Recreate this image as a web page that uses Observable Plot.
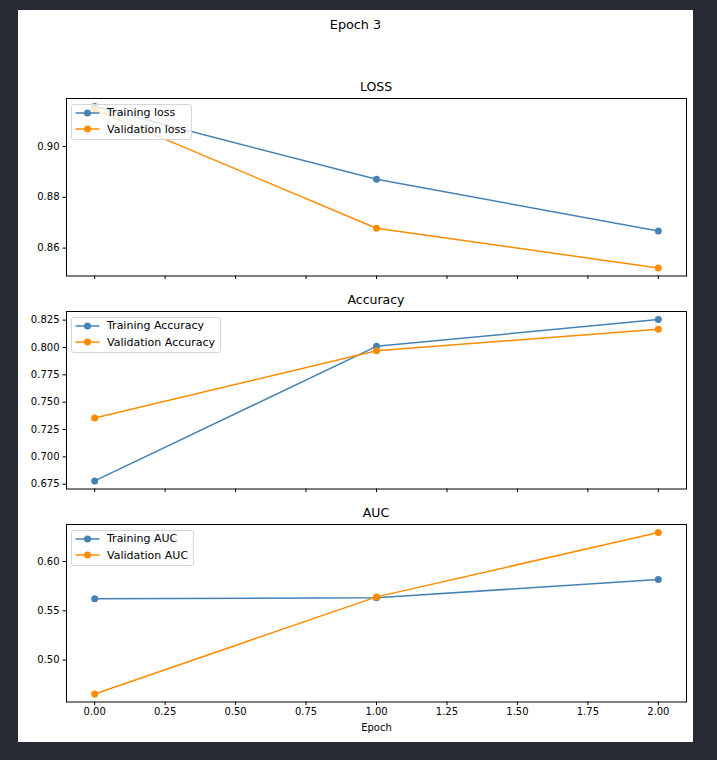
<!DOCTYPE html>
<html>
<head>
<meta charset="utf-8">
<script src="https://cdn.jsdelivr.net/npm/d3@7"></script>
<script src="https://cdn.jsdelivr.net/npm/@observablehq/plot@0.6"></script>
<style>
  html, body { margin: 0; padding: 0; background: #262a33; }
  body { width: 717px; height: 760px; position: relative; font-family: "DejaVu Sans", sans-serif; }
  #fig { position: absolute; left: 18px; top: 10px; width: 675px; height: 732px; background: #fff; }
  .suptitle { position: absolute; left: 0; width: 675px; top: 7px; text-align: center; font-size: 12.8px; color: #000; line-height: 15px; }
  .ptitle { position: absolute; left: 48px; width: 620px; text-align: center; font-size: 12.5px; color: #000; line-height: 14px; }
  .panel { position: absolute; left: 0; }
  .legend { position: absolute; border: 1px solid #d6d6d6; border-radius: 3px; background: rgba(255,255,255,0.8); padding: 0 5px 1px 3px; font-size: 11px; color: #000; }
  .legend .row { display: flex; align-items: center; height: 16.6px; }
  .legend svg { margin-right: 7px; }
</style>
</head>
<body>
<div id="fig"></div>
<script>
const epochs = [0, 1, 2];
const trainLoss = [0.9157, 0.8871, 0.8667];
const valLoss = [0.9145, 0.8678, 0.8522];
const trainAcc = [0.678, 0.801, 0.8255];
const valAcc = [0.7355, 0.797, 0.8167];
const trainAuc = [0.5621, 0.5631, 0.5818];
const valAuc = [0.4657, 0.5641, 0.6293];

const xTicks = [0, 0.25, 0.5, 0.75, 1, 1.25, 1.5, 1.75, 2];
const lossTicks = [0.86, 0.88, 0.90];
const accTicks = [0.675, 0.7, 0.725, 0.75, 0.775, 0.8, 0.825];
const aucTicks = [0.5, 0.55, 0.6];

const BLUE = "#4682b4", ORANGE = "#ff8c00";
const fig = document.getElementById("fig");

const sup = document.createElement("div");
sup.className = "suptitle"; sup.textContent = "Epoch 3";
fig.appendChild(sup);

function panel({title, train, val, trainLabel, valLabel, yTicks, fmt, axesTop, last}) {
  const rows = [];
  epochs.forEach((e, i) => rows.push({epoch: e, value: train[i], series: trainLabel}));
  epochs.forEach((e, i) => rows.push({epoch: e, value: val[i], series: valLabel}));
  const all = train.concat(val);
  const lo = d3.min(all), hi = d3.max(all), pad = (hi - lo) * 0.05;
  const mt = 10, mb = last ? 45 : 25, ah = 177.5;
  const chart = Plot.plot({
    width: 675, height: mt + ah + mb,
    marginLeft: 48, marginRight: 7, marginTop: mt, marginBottom: mb,
    style: {fontFamily: "DejaVu Sans, sans-serif", fontSize: "10px", color: "#000", background: "transparent", overflow: "visible"},
    x: {domain: [-0.1, 2.1]},
    y: {domain: [lo - pad, hi + pad]},
    color: {domain: [trainLabel, valLabel], range: [BLUE, ORANGE]},
    marks: [
      Plot.axisY({ticks: yTicks, tickFormat: d3.format(fmt), tickSize: 3.5, tickPadding: 3.5, label: null, fontSize: 10}),
      last
        ? Plot.axisX({ticks: xTicks, tickFormat: d3.format(".2f"), tickSize: 3.5, tickPadding: 2.5, label: "Epoch", labelAnchor: "center", labelArrow: "none", labelOffset: 29, fontSize: 10})
        : Plot.axisX({ticks: xTicks, tickFormat: () => "", tickSize: 3.5, label: null}),
      Plot.line(rows, {x: "epoch", y: "value", stroke: "series", strokeWidth: 1.5}),
      Plot.dot(rows, {x: "epoch", y: "value", fill: "series", r: 3.5, stroke: "none"}),
      Plot.frame({stroke: "#000", strokeWidth: 1})
    ]
  });
  chart.classList.add("panel");
  chart.style.top = (axesTop - mt) + "px";
  fig.appendChild(chart);

  const t = document.createElement("div");
  t.className = "ptitle"; t.textContent = title;
  t.style.top = (axesTop - 18) + "px";
  fig.appendChild(t);

  const lg = document.createElement("div");
  lg.className = "legend";
  lg.style.left = "53px";
  lg.style.top = (axesTop + 5.5) + "px";
  [[trainLabel, BLUE], [valLabel, ORANGE]].forEach(([lab, col]) => {
    const r = document.createElement("div"); r.className = "row";
    r.innerHTML = `<svg width="25" height="10"><line x1="0.5" x2="24.5" y1="5" y2="5" stroke="${col}" stroke-width="1.5"/><circle cx="12.5" cy="5" r="3.5" fill="${col}"/></svg><span>${lab}</span>`;
    lg.appendChild(r);
  });
  fig.appendChild(lg);
}

panel({title: "LOSS", train: trainLoss, val: valLoss, trainLabel: "Training loss", valLabel: "Validation loss", yTicks: lossTicks, fmt: ".2f", axesTop: 88, last: false});
panel({title: "Accuracy", train: trainAcc, val: valAcc, trainLabel: "Training Accuracy", valLabel: "Validation Accuracy", yTicks: accTicks, fmt: ".3f", axesTop: 301, last: false});
panel({title: "AUC", train: trainAuc, val: valAuc, trainLabel: "Training AUC", valLabel: "Validation AUC", yTicks: aucTicks, fmt: ".2f", axesTop: 514, last: true});
</script>
</body>
</html>
